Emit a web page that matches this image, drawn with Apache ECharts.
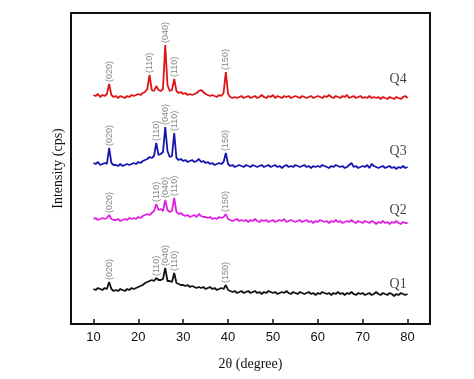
<!DOCTYPE html>
<html>
<head>
<meta charset="utf-8">
<script src="https://cdn.jsdelivr.net/npm/echarts@6/dist/echarts.min.js"></script>
<style>html,body{margin:0;padding:0;background:#fff;}#c{width:474px;height:379px;}</style>
</head>
<body>
<div id="c"></div>
<script>
// 2θ sampling grid (degrees): 10 to 80 in 0.5° steps
const twoTheta = Array.from({length: 141}, (_, i) => 10 + i * 0.5);
const xTicks = [10, 20, 30, 40, 50, 60, 70, 80];

// Intensities (arbitrary units) per sample, one row per 5°
const q4 = [
  2,1,3,0,2,1,3,13,2,0,
  1,-1,1,0,-1,1,0,2,1,2,
  3,2,4,5,8,22,7,6,11,7,
  6,8,52,12,6,7,18,6,4,5,
  3,4,2,3,2,3,4,6,7,5,
  3,2,1,2,1,0,2,1,4,25,
  3,0,-1,0,-1,0,1,-1,0,1,
  -1,0,1,-1,0,2,0,-1,1,0,
  2,-1,1,0,-1,1,0,1,-1,0,
  1,0,-1,1,0,-1,0,1,-1,0,
  1,0,-1,1,0,2,0,-1,1,0,
  -1,1,0,2,-1,0,1,-1,0,1,
  -1,0,-1,1,-1,0,-1,0,-2,0,
  -1,-2,0,-1,-2,0,-1,-2,0,1,
  -1
];
const q3 = [
  2,1,3,0,1,2,1,17,2,0,
  0,-1,1,-1,0,1,0,1,2,1,
  3,2,4,5,6,8,7,9,22,10,
  11,13,38,14,8,9,32,7,5,6,
  4,5,3,4,5,3,4,6,3,4,
  2,3,1,2,0,1,2,1,3,12,
  1,-1,0,-2,-1,0,-1,-2,0,-1,
  -2,0,-1,-2,-1,0,-2,-1,0,-2,
  -1,0,-2,-1,-3,-1,0,-2,-1,-2,
  0,-1,-2,-1,0,-2,-1,-3,-1,-2,
  -1,-2,0,-1,-2,-3,-1,-2,0,-1,
  -2,-1,-3,-2,0,2,-2,-1,-3,-2,
  -1,-2,0,-3,1,-1,-2,-3,-2,-1,
  -3,-2,-1,-3,-2,-4,-2,-3,-1,-3,
  -2
];
const q2 = [
  0,1,-1,0,1,0,1,4,0,-1,
  -1,0,-2,-1,0,-1,1,0,1,0,
  2,1,3,4,5,4,6,8,15,9,
  10,8,19,9,7,8,21,7,5,6,
  4,3,4,2,3,4,2,5,3,2,
  2,1,2,0,1,0,2,1,2,5,
  0,-1,-2,-1,0,-2,-1,-2,-1,-3,
  -1,-2,0,-2,-3,-1,-2,-1,-3,-2,
  -1,-3,-2,-1,-2,0,-3,-2,-1,-2,
  -3,-2,-1,-3,-2,-1,-3,-2,-4,-2,
  -3,-1,-2,-3,-2,-4,-2,-3,-1,-3,
  -2,-4,-3,-2,-3,-1,-3,-4,-2,-3,
  -4,-2,-3,-4,-2,-3,-5,-3,-4,-2,
  -4,-3,-5,-3,-4,-2,-4,-5,-3,-4,
  -4
];
const q1 = [
  0,-1,1,0,-1,1,0,7,0,-2,
  -1,-2,0,-1,-2,0,-1,1,0,1,
  2,3,4,6,7,8,9,8,11,9,
  9,10,21,8,8,7,16,6,5,4,
  4,3,4,2,3,2,1,2,1,2,
  0,1,2,0,1,-1,0,1,0,4,
  -1,-2,-3,-2,-4,-3,-2,-4,-3,-2,
  -4,-3,-2,-4,-3,-5,-3,-4,-2,-3,
  -4,-3,-5,-4,-3,-4,-2,-4,-5,-3,
  -4,-5,-3,-4,-5,-4,-3,-5,-4,-6,
  -4,-5,-3,-4,-5,-4,-6,-4,-5,-3,
  -5,-4,-6,-4,-5,-3,-5,-6,-4,-5,
  -4,-6,-5,-4,-6,-5,-3,-5,-6,-4,
  -5,-6,-4,-5,-7,-5,-6,-4,-5,-6,
  -5
];

// Peak annotations: [2θ, Miller index]
const peaksQ4 = [[13.5,'(020)'],[22.5,'(110)'],[26,'(040)'],[28,'(110)'],[39.5,'(150)']];
const peaksQ3 = [[13.5,'(020)'],[24,'(110)'],[26,'(040)'],[28,'(110)'],[39.5,'(150)']];
const peaksQ2 = [[13.5,'(020)'],[24,'(110)'],[26,'(040)'],[28,'(110)'],[39.5,'(150)']];
const peaksQ1 = [[13.5,'(020)'],[24,'(110)'],[26,'(040)'],[28,'(110)'],[39.5,'(150)']];

const sampleNames = ['Q1','Q2','Q3','Q4'];

// ---- layout / style configuration ----
const stackOffset = {Q1: 35, Q2: 105, Q3: 159, Q4: 227};
const nameLift = {Q1: 10, Q2: 13, Q3: 16, Q4: 19};
const colors = {Q1: '#111111', Q2: '#e020e0', Q3: '#1515b0', Q4: '#dd1416'};
const dataBy = {Q1: q1, Q2: q2, Q3: q3, Q4: q4};
const peaksBy = {Q1: peaksQ1, Q2: peaksQ2, Q3: peaksQ3, Q4: peaksQ4};
const serif = '"Liberation Serif", "Times New Roman", serif';
const sans = '"Liberation Sans", Arial, sans-serif';

const series = [];
sampleNames.forEach(n => {
  const off = stackOffset[n];
  const vals = dataBy[n];
  series.push({
    type: 'line', name: n, showSymbol: false, symbol: 'none',
    data: twoTheta.map((x, i) => [x, vals[i] + off]),
    lineStyle: {color: colors[n], width: 1.8}, itemStyle: {color: colors[n]},
    z: 3, silent: true, animation: false
  });
  series.push({
    type: 'scatter', symbolSize: 0, silent: true, animation: false, z: 4,
    data: peaksBy[n].map(([x, t]) => {
      const idx = Math.round((x - 10) / 0.5);
      return [x, vals[idx] + off + 2, t];
    }),
    label: {
      show: true, position: 'top', distance: 0, rotate: 90,
      align: 'left', verticalAlign: 'middle',
      formatter: p => p.value[2], fontSize: 9, color: '#666',
      fontFamily: sans
    }
  });
  series.push({
    type: 'scatter', symbolSize: 0, silent: true, animation: false, z: 4,
    data: [[77.9, off + vals[vals.length - 1] + nameLift[n], n]],
    label: {
      show: true, position: 'inside', formatter: p => p.value[2],
      fontSize: 14, color: '#111', fontFamily: serif
    }
  });
});

const chart = echarts.init(document.getElementById('c'), null, {renderer: 'canvas'});
chart.setOption({
  animation: false,
  backgroundColor: '#fff',
  grid: {left: 71, right: 44, top: 13, bottom: 55, show: true,
         borderColor: '#111', borderWidth: 2, backgroundColor: 'transparent'},
  xAxis: {
    type: 'value', min: 5, max: 85,
    name: '2θ (degree)', nameLocation: 'middle', nameGap: 33,
    nameTextStyle: {fontFamily: serif, fontSize: 14, color: '#111'},
    axisLine: {show: false},
    axisTick: {show: true, inside: true, length: 5, lineStyle: {color: '#111', width: 1.5},
               customValues: xTicks},
    axisLabel: {
      margin: 7, fontSize: 13, color: '#111', fontFamily: sans,
      customValues: xTicks
    },
    splitLine: {show: false}
  },
  yAxis: {
    type: 'value', min: 0, max: 311,
    name: 'Intensity (cps)', nameLocation: 'middle', nameGap: 6,
    nameTextStyle: {fontFamily: serif, fontSize: 14, color: '#111'},
    axisLine: {show: false}, axisTick: {show: false}, axisLabel: {show: false},
    splitLine: {show: false}
  },
  series: series
});
</script>
</body>
</html>
